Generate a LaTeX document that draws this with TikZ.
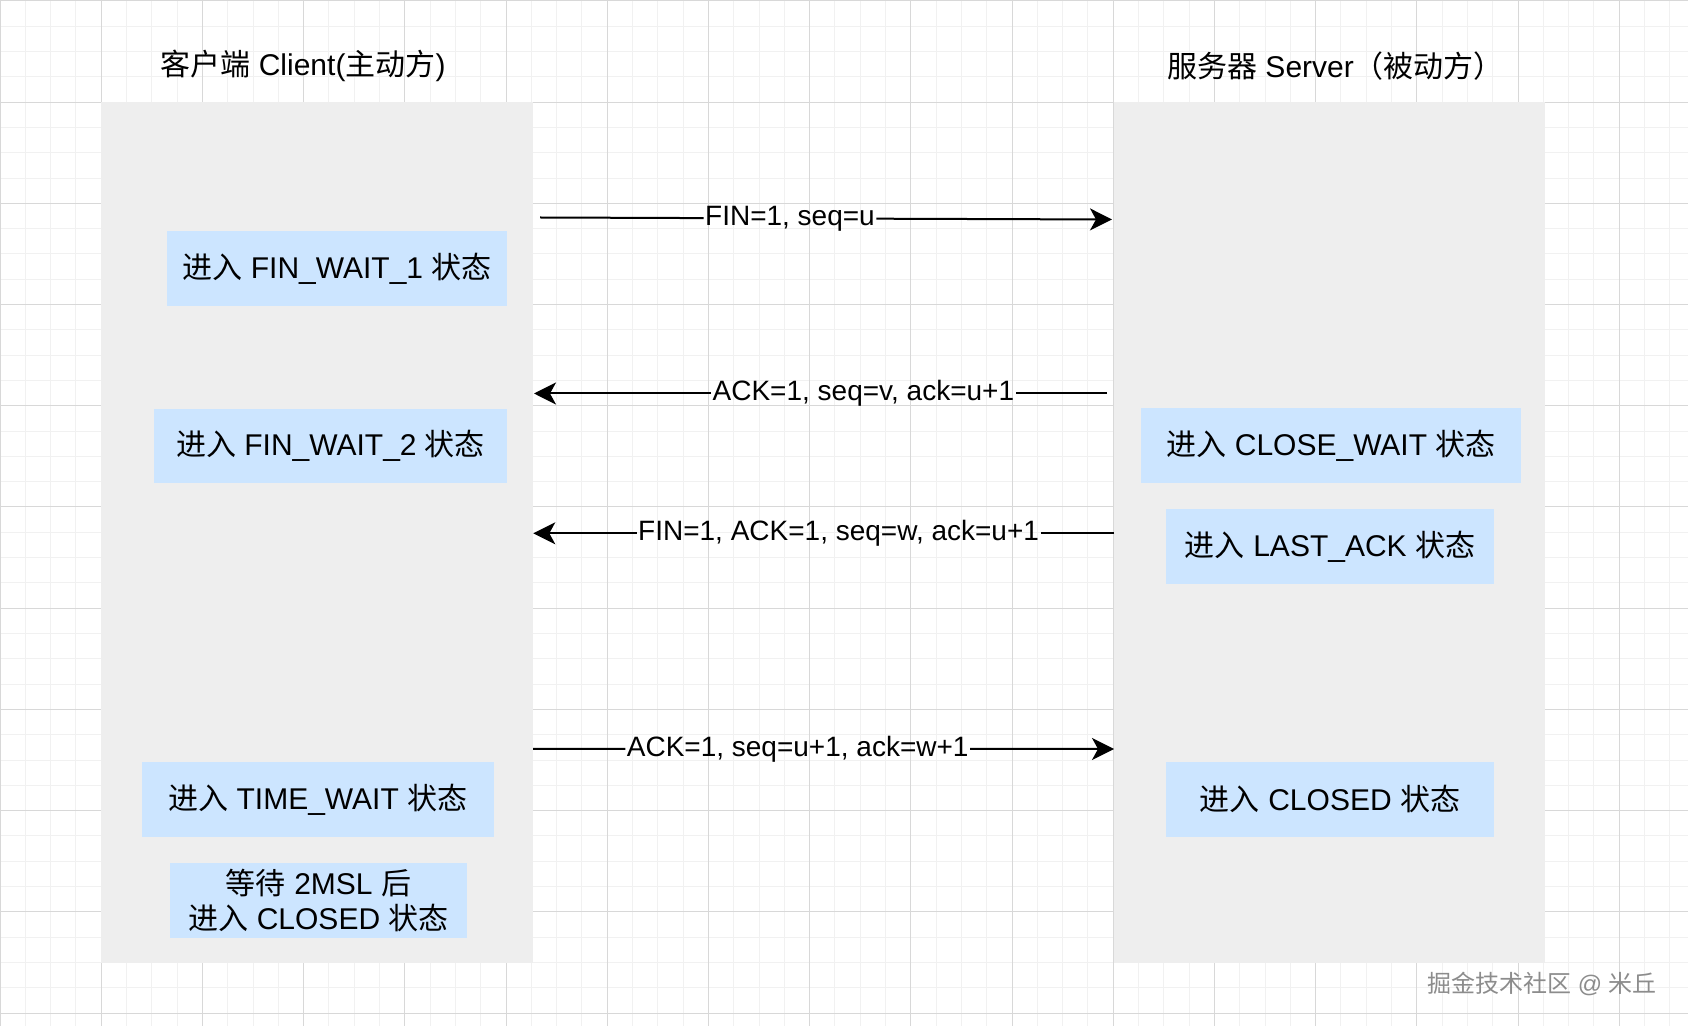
\documentclass[tikz,border=0pt]{standalone}
\usepackage{fontspec}
\setmainfont{Liberation Sans}
\newfontfamily\cjk{Noto Sans CJK SC}
\usetikzlibrary{arrows.meta}
\definecolor{panelgray}{HTML}{EEEEEE}
\definecolor{boxblue}{HTML}{CCE5FF}
\definecolor{gridmajor}{HTML}{D8D8D8}
\definecolor{gridminor}{HTML}{F1F1F1}
\definecolor{wmgray}{HTML}{8C8C8C}
\tikzset{
  statebox/.style={fill=boxblue, draw=none, inner sep=0pt, align=center, font=\fontsize{15pt}{17.5pt}\selectfont},
  titletext/.style={inner sep=0pt, font=\fontsize{15pt}{18pt}\selectfont},
  msglabel/.style={inner sep=0.6pt, font=\fontsize{14pt}{16pt}\selectfont},
  msgarrow/.style={line width=1pt, -{Stealth[length=11pt,width=11pt,inset=3pt]}},
  panelbox/.style={fill=panelgray, draw=none, inner sep=0pt},
  minorline/.style={draw=gridminor, line width=0.5pt},
  majorline/.style={draw=gridmajor, line width=0.5pt},
}
\begin{document}
\begin{tikzpicture}[x=0.5pt,y=-0.5pt]
\useasboundingbox (0,0) rectangle (1688,1026);
\fill[white] (0,0) rectangle (1688,1026);
% grid
\foreach \i in {0,...,66} \draw[minorline] ({\i*25.3},0) -- ({\i*25.3},1026);
\foreach \j in {0,...,40} \draw[minorline] (0,{1+\j*25.3}) -- (1688,{1+\j*25.3});
\foreach \i in {0,...,16} \draw[majorline] ({\i*101.2},0) -- ({\i*101.2},1026);
\foreach \j in {0,...,10} \draw[majorline] (0,{1+\j*101.2}) -- (1688,{1+\j*101.2});
% panels
\node[panelbox, minimum width=215.75pt, minimum height=430.2pt] (clientpanel) at (316.95,532.5) {};
\node[panelbox, minimum width=215.5pt, minimum height=430.2pt] (serverpanel) at (1329.5,532.5) {};
% titles
\node[titletext] (clienttitle) at (303,66) {{\cjk 客户端} Client({\cjk 主动方})};
\node[titletext] (servertitle) at (1335.5,66) {{\cjk 服务器} Server{\cjk （被动方）}};
% client states
\node[statebox, minimum width=170pt, minimum height=37.5pt] (finwait1) at (337,268.5) {{\cjk 进入} FIN\_WAIT\_1 {\cjk 状态}};
\node[statebox, minimum width=176.5pt, minimum height=37pt] (finwait2) at (330.5,446) {{\cjk 进入} FIN\_WAIT\_2 {\cjk 状态}};
\node[statebox, minimum width=176.25pt, minimum height=37.5pt] (timewait) at (317.75,799.5) {{\cjk 进入} TIME\_WAIT {\cjk 状态}};
\node[statebox, minimum width=148.5pt, minimum height=37.5pt] (clientclosed) at (318.5,900.5) {{\cjk 等待} 2MSL {\cjk 后}\\{\cjk 进入} CLOSED {\cjk 状态}};
% server states
\node[statebox, minimum width=190pt, minimum height=37.5pt] (closewait) at (1331,445.5) {{\cjk 进入} CLOSE\_WAIT {\cjk 状态}};
\node[statebox, minimum width=164pt, minimum height=37.5pt] (lastack) at (1330,546.5) {{\cjk 进入} LAST\_ACK {\cjk 状态}};
\node[statebox, minimum width=164pt, minimum height=37.5pt] (serverclosed) at (1330,799.5) {{\cjk 进入} CLOSED {\cjk 状态}};
% message end points
\coordinate (m1s) at (540,217.5);
\coordinate (m1e) at (1112,219.5);
\coordinate (m2s) at (1107,393.5);
\coordinate (m2e) at (534,393.5);
\coordinate (m3s) at (1114,533.3);
\coordinate (m3e) at (533.3,533.3);
\coordinate (m4s) at (533,748.8);
\coordinate (m4e) at (1114,749);
% labels
\node[msglabel] (l1) at (790,218.4) {FIN=1, seq=u};
\node[msglabel] (l2) at (863.4,393.5) {ACK=1, seq=v, ack=u+1};
\node[msglabel] (l3) at (838.6,533.3) {FIN=1, ACK=1, seq=w, ack=u+1};
\node[msglabel] (l4) at (797.7,748.9) {ACK=1, seq=u+1, ack=w+1};
% arrows
\draw[msgarrow] (m1s) -- (l1) -- (m1e);
\draw[msgarrow] (m2s) -- (l2) -- (m2e);
\draw[msgarrow] (m3s) -- (l3) -- (m3e);
\draw[msgarrow] (m4s) -- (l4) -- (m4e);
% watermark
\node[inner sep=0pt, text=wmgray, font=\fontsize{12pt}{14pt}\selectfont] (watermark) at (1542,984) {{\cjk 掘金技术社区} @ {\cjk 米丘}};
\end{tikzpicture}
\end{document}
